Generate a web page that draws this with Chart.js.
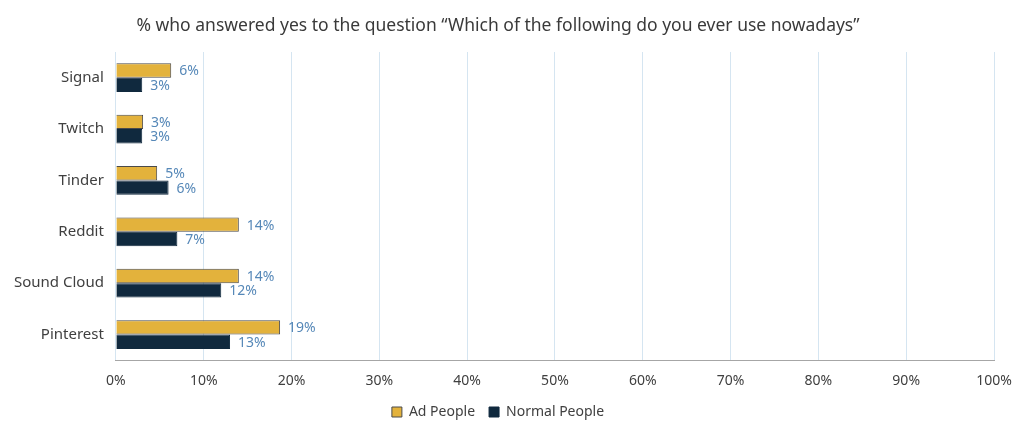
<!DOCTYPE html>
<html>
<head>
<meta charset="utf-8">
<script src="https://cdn.jsdelivr.net/npm/chart.js@4"></script>
<style>
  html, body { margin: 0; padding: 0; background: #fff; }
  #wrap { width: 1024px; height: 427px; }
</style>
</head>
<body>
<div id="wrap"><canvas id="myChart"></canvas></div>
<script>
const categories = ['Signal', 'Twitch', 'Tinder', 'Reddit', 'Sound Cloud', 'Pinterest'];
const adPeople = [6.3, 3.1, 4.7, 14.0, 14.0, 18.7];
const normalPeople = [3.0, 3.0, 6.0, 7.0, 12.0, 13.0];
const xTicks = [0, 10, 20, 30, 40, 50, 60, 70, 80, 90, 100];

const fontFamily = '"Noto Sans", sans-serif';

// draws the % labels at the end of each bar
const barLabels = {
    id: 'barLabels',
    afterDatasetsDraw(chart) {
        const ctx = chart.ctx;
        ctx.save();
        ctx.font = '14px ' + fontFamily;
        ctx.fillStyle = '#5688b8';
        ctx.textBaseline = 'middle';
        ctx.textAlign = 'left';
        chart.data.datasets.forEach(function (ds, i) {
            chart.getDatasetMeta(i).data.forEach(function (bar, j) {
                ctx.fillText(Math.round(ds.data[j]) + '%', bar.x + 8, bar.y + 1);
            });
        });
        ctx.restore();
    }
};

// legend keeps its item spacing but takes a bit less height
const tightLegend = {
    id: 'tightLegend',
    afterInit(chart) {
        const lg = chart.legend;
        if (!lg) return;
        const fit = lg.fit;
        lg.fit = function () {
            fit.call(this);
            this.height -= 2;
        };
    }
};

const ctx = document.getElementById('myChart').getContext('2d');
const myChart = new Chart(ctx, {
    type: 'bar',
    data: {
        labels: categories,
        datasets: [
            {
                label: 'Ad People',
                data: adPeople,
                backgroundColor: '#e3b23c',
                borderColor: '#4a4a4a',
                borderWidth: 1,
                barPercentage: 1,
                categoryPercentage: 0.56
            },
            {
                label: 'Normal People',
                data: normalPeople,
                backgroundColor: '#10293e',
                borderColor: '#10293e',
                borderWidth: 1,
                barPercentage: 1,
                categoryPercentage: 0.56
            }
        ]
    },
    plugins: [barLabels, tightLegend],
    options: {
        indexAxis: 'y',
        responsive: true,
        maintainAspectRatio: false,
        animation: false,
        layout: { padding: { left: 2, right: 30, top: 0, bottom: 0 } },
        scales: {
            x: {
                min: 0,
                max: 100,
                afterBuildTicks: function (axis) {
                    axis.ticks = xTicks.map(function (v) { return { value: v }; });
                },
                afterFit: function (axis) {
                    axis.height -= 10;
                },
                ticks: {
                    callback: function (v) { return v + '%'; },
                    color: '#404040',
                    font: { family: fontFamily, size: 14 },
                    padding: 12
                },
                grid: {
                    color: '#d5e5f1',
                    drawTicks: false
                },
                border: { color: '#a6a6a6', width: 1 }
            },
            y: {
                ticks: {
                    color: '#404040',
                    font: { family: fontFamily, size: 15 },
                    padding: 12
                },
                grid: { display: false, drawTicks: false },
                border: { display: false }
            }
        },
        plugins: {
            title: {
                display: true,
                text: '% who answered yes to the question \u201cWhich of the following do you ever use nowadays\u201d',
                color: '#3a3a3a',
                font: { family: fontFamily, size: 17.5, weight: 'normal' },
                padding: { top: 16, bottom: 15 }
            },
            legend: {
                position: 'bottom',
                labels: {
                    color: '#404040',
                    font: { family: fontFamily, size: 14 },
                    boxWidth: 10,
                    boxHeight: 10,
                    padding: 14
                }
            },
            tooltip: { enabled: false }
        }
    }
});
</script>
</body>
</html>
